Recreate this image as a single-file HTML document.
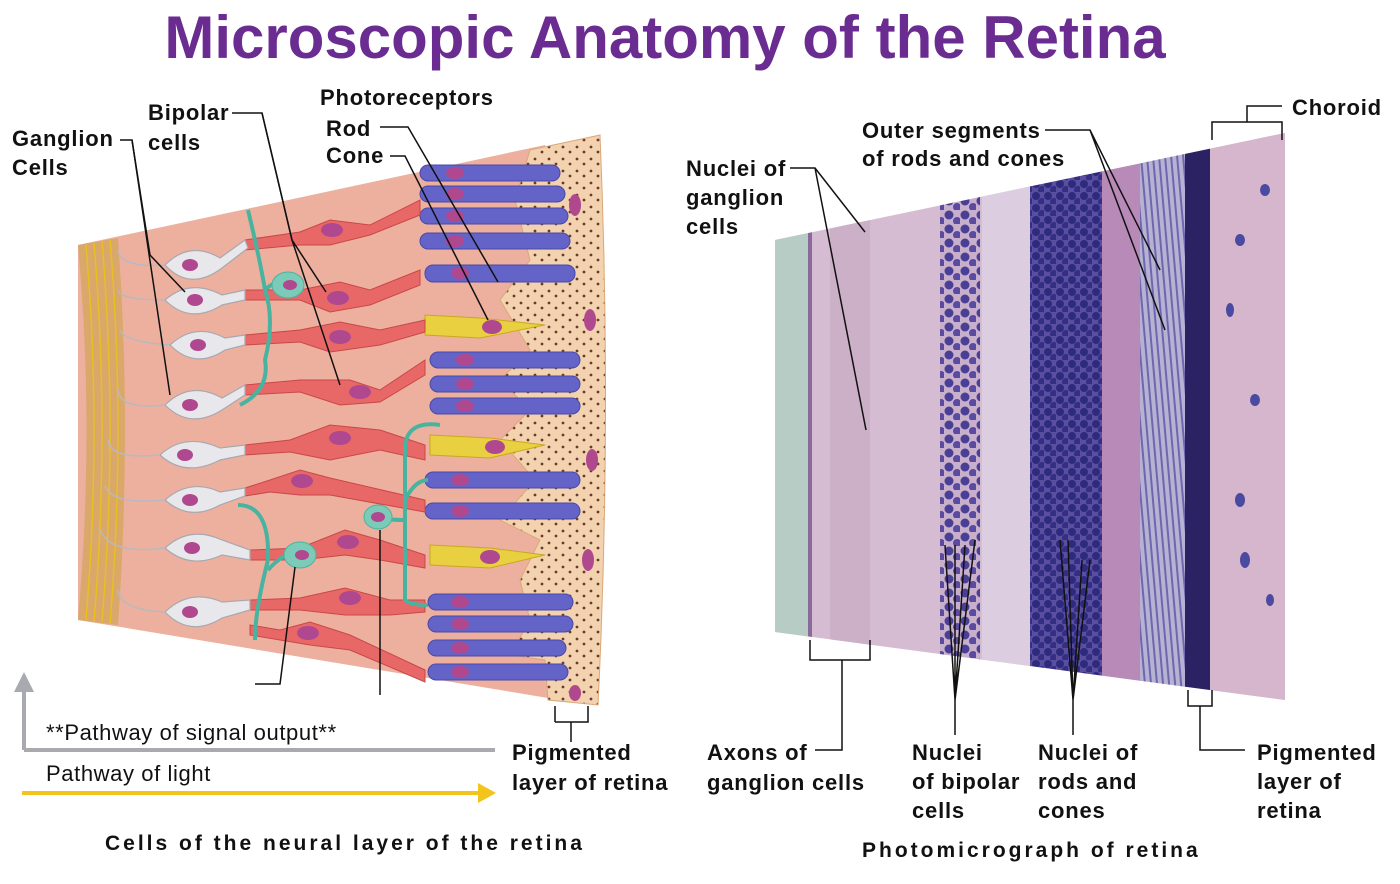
<!DOCTYPE html>
<html><head><meta charset="utf-8"><style>
html,body{margin:0;padding:0;background:#fff;}
body{width:1400px;height:884px;overflow:hidden;position:relative;font-family:"Liberation Sans",Arial,sans-serif;}
svg{position:absolute;left:0;top:0;}
.t{font-family:"Liberation Sans",Arial,sans-serif;font-weight:bold;font-size:22px;letter-spacing:0.8px;fill:#111;}
.c{font-family:"Liberation Sans",Arial,sans-serif;font-weight:bold;font-size:21px;letter-spacing:3px;fill:#111;}
</style></head><body>
<svg width="1400" height="884" viewBox="0 0 1400 884">
<defs>
<pattern id="nuc" width="16" height="14" patternUnits="userSpaceOnUse">
<rect width="16" height="14" fill="#c8b0cc"/>
<circle cx="5" cy="5" r="4.5" fill="#4a3f95"/><circle cx="13" cy="11" r="4" fill="#5a4aa0"/>
</pattern>
<pattern id="dense" width="12" height="12" patternUnits="userSpaceOnUse">
<rect width="12" height="12" fill="#5a4f9e"/>
<circle cx="4" cy="4" r="4" fill="#2e2a7e"/><circle cx="10" cy="10" r="4" fill="#342f85"/>
</pattern>
<pattern id="stri" width="6" height="20" patternUnits="userSpaceOnUse" patternTransform="rotate(-5)">
<rect width="6" height="20" fill="#b6b2d4"/><rect width="2" height="20" fill="#6f66ad"/>
</pattern>
<pattern id="pig" width="14" height="12" patternUnits="userSpaceOnUse">
<rect width="14" height="12" fill="#f3d2b0"/><circle cx="3" cy="3" r="1.4" fill="#6b3a2a"/><circle cx="10" cy="8" r="1.4" fill="#6b3a2a"/>
</pattern>
<clipPath id="mc"><polygon points="775,240 1285,133 1285,700 775,632"/></clipPath>
</defs>

<text x="665" y="58" text-anchor="middle" font-family="Liberation Sans" font-weight="bold" font-size="60" fill="#6a2c91">Microscopic Anatomy of the Retina</text>

<!-- LEFT DIAGRAM -->
<polygon points="78,245 545,145 560,700 78,620" fill="#eeb09e"/>
<path d="M78,245 Q95,430 78,620 L118,625 Q132,430 118,238 Z" fill="#d9a86a"/>
<g stroke="#e8c020" stroke-width="1.5" fill="none">
<path d="M86,245 Q102,430 86,620"/><path d="M94,243 Q110,430 94,622"/><path d="M102,241 Q118,430 102,622"/><path d="M110,240 Q126,430 110,624"/>
</g>
<path d="M530,150 L600,135 Q612,420 598,705 L548,700 L545,660 L510,655 L530,620 L520,580 L540,540 L500,520 L535,480 L500,440 L530,410 L500,380 L530,350 L500,300 L530,260 L515,200 Z" fill="url(#pig)" stroke="#d9a878"/>
<g fill="#b0488e"><ellipse cx="575" cy="205" rx="6" ry="11"/><ellipse cx="590" cy="320" rx="6" ry="11"/><ellipse cx="592" cy="460" rx="6" ry="11"/><ellipse cx="588" cy="560" rx="6" ry="11"/><ellipse cx="575" cy="693" rx="6" ry="8"/></g>

<g fill="#6464c8" stroke="#4848a8" stroke-width="1">
<rect x="420" y="165" width="140" height="16" rx="8"/><rect x="420" y="186" width="145" height="16" rx="8"/><rect x="420" y="208" width="148" height="16" rx="8"/><rect x="420" y="233" width="150" height="16" rx="8"/><rect x="425" y="265" width="150" height="17" rx="8"/>
<rect x="430" y="352" width="150" height="16" rx="8"/><rect x="430" y="376" width="150" height="16" rx="8"/><rect x="430" y="398" width="150" height="16" rx="8"/>
<rect x="425" y="472" width="155" height="16" rx="8"/><rect x="425" y="503" width="155" height="16" rx="8"/>
<rect x="428" y="594" width="145" height="16" rx="8"/><rect x="428" y="616" width="145" height="16" rx="8"/><rect x="428" y="640" width="138" height="16" rx="8"/><rect x="428" y="664" width="140" height="16" rx="8"/>
</g>
<g fill="#e8d040" stroke="#c8a820"><path d="M425,315 L480,318 L545,325 L480,338 L425,335 Z"/><path d="M430,435 L490,438 L545,445 L490,458 L430,455 Z"/><path d="M430,545 L490,548 L545,555 L490,568 L430,565 Z"/></g>
<g fill="#b04890">
<ellipse cx="455" cy="173" rx="9" ry="6"/><ellipse cx="455" cy="194" rx="9" ry="6"/><ellipse cx="455" cy="216" rx="9" ry="6"/><ellipse cx="455" cy="241" rx="9" ry="6"/><ellipse cx="460" cy="273" rx="9" ry="6"/><ellipse cx="492" cy="327" rx="10" ry="7"/>
<ellipse cx="465" cy="360" rx="9" ry="6"/><ellipse cx="465" cy="384" rx="9" ry="6"/><ellipse cx="465" cy="406" rx="9" ry="6"/><ellipse cx="495" cy="447" rx="10" ry="7"/><ellipse cx="460" cy="480" rx="9" ry="6"/><ellipse cx="460" cy="511" rx="9" ry="6"/><ellipse cx="490" cy="557" rx="10" ry="7"/><ellipse cx="460" cy="602" rx="9" ry="6"/><ellipse cx="460" cy="624" rx="9" ry="6"/><ellipse cx="460" cy="648" rx="9" ry="6"/><ellipse cx="460" cy="672" rx="9" ry="6"/>
</g>
<g fill="#e86868" stroke="#c84848" stroke-width="1">
<path d="M245,240 L300,232 L330,220 L370,225 L420,200 L420,215 L370,235 L330,245 L300,245 L245,250Z"/>
<path d="M245,290 L300,290 L340,282 L370,290 L420,270 L420,285 L370,305 L330,312 L300,300 L245,300Z"/>
<path d="M245,335 L300,330 L340,322 L380,330 L425,320 L425,332 L380,345 L330,352 L300,342 L245,345Z"/>
<path d="M245,385 L300,380 L350,380 L380,390 L425,360 L425,375 L380,402 L340,405 L300,392 L245,395Z"/>
<path d="M245,445 L290,440 L330,425 L380,430 L425,445 L425,460 L380,450 L330,460 L290,452 L245,455Z"/>
<path d="M245,488 L270,480 L300,470 L330,478 L425,500 L425,512 L330,495 L300,495 L270,492 L245,496Z"/>
<path d="M250,550 L300,548 L345,530 L380,540 L425,555 L425,568 L380,560 L345,555 L300,560 L250,560Z"/>
<path d="M250,600 L300,598 L345,588 L390,600 L425,600 L425,612 L390,615 L345,615 L300,610 L250,610Z"/>
<path d="M250,625 L280,630 L310,622 L350,635 L425,670 L425,682 L350,650 L310,645 L280,640 L250,635Z"/>
</g>
<g fill="#b04890"><ellipse cx="332" cy="230" rx="11" ry="7"/><ellipse cx="338" cy="298" rx="11" ry="7"/><ellipse cx="340" cy="337" rx="11" ry="7"/><ellipse cx="360" cy="392" rx="11" ry="7"/><ellipse cx="340" cy="438" rx="11" ry="7"/><ellipse cx="302" cy="481" rx="11" ry="7"/><ellipse cx="348" cy="542" rx="11" ry="7"/><ellipse cx="350" cy="598" rx="11" ry="7"/><ellipse cx="308" cy="633" rx="11" ry="7"/></g>
<g fill="none" stroke="#48b4a0" stroke-width="4">
<path d="M248,210 Q260,260 265,290 Q275,320 265,360 Q270,390 240,405"/>
<path d="M265,290 Q280,275 300,285"/>
<path d="M238,505 Q270,505 268,560 Q255,610 255,640"/>
<path d="M268,570 Q290,545 310,555"/>
<path d="M440,425 Q405,420 405,450 L405,600 Q410,605 428,605"/>
<path d="M405,520 Q380,520 380,515"/><path d="M405,500 Q415,480 428,480"/>
</g>
<g fill="#7ccab8" stroke="#48b4a0"><ellipse cx="288" cy="285" rx="16" ry="13"/><ellipse cx="300" cy="555" rx="16" ry="13"/><ellipse cx="378" cy="517" rx="14" ry="12"/></g>
<g fill="#b04890"><ellipse cx="290" cy="285" rx="7" ry="5"/><ellipse cx="302" cy="555" rx="7" ry="5"/><ellipse cx="378" cy="517" rx="7" ry="5"/></g>
<g fill="#e8e8ec" stroke="#a8a8b0" stroke-width="1.2">
<path d="M165,265 Q190,240 220,258 L245,240 L248,248 L222,268 Q190,292 165,265Z"/>
<path d="M165,300 Q190,278 222,295 L245,290 L245,300 L222,305 Q190,325 165,300Z"/>
<path d="M170,345 Q195,322 225,338 L245,335 L245,345 L225,350 Q195,370 170,345Z"/>
<path d="M165,405 Q190,380 222,398 L245,385 L245,395 L222,410 Q190,430 165,405Z"/>
<path d="M160,455 Q185,432 220,448 L245,445 L245,455 L220,460 Q185,478 160,455Z"/>
<path d="M165,500 Q190,478 220,492 L245,488 L245,496 L220,505 Q190,522 165,500Z"/>
<path d="M165,548 Q190,525 222,540 L250,550 L250,560 L222,555 Q190,570 165,548Z"/>
<path d="M165,612 Q190,588 222,602 L250,600 L250,610 L222,618 Q190,638 165,612Z"/>
</g>
<g fill="#b04890"><ellipse cx="190" cy="265" rx="8" ry="6"/><ellipse cx="195" cy="300" rx="8" ry="6"/><ellipse cx="198" cy="345" rx="8" ry="6"/><ellipse cx="190" cy="405" rx="8" ry="6"/><ellipse cx="185" cy="455" rx="8" ry="6"/><ellipse cx="190" cy="500" rx="8" ry="6"/><ellipse cx="192" cy="548" rx="8" ry="6"/><ellipse cx="190" cy="612" rx="8" ry="6"/></g>
<g fill="none" stroke="#b8b8c0" stroke-width="1.5">
<path d="M165,265 Q120,268 118,250"/><path d="M165,300 Q120,300 118,290"/><path d="M170,345 Q125,342 120,330"/><path d="M165,405 Q120,410 118,390"/><path d="M160,455 Q110,460 108,440"/><path d="M165,500 Q110,505 105,485"/><path d="M165,548 Q110,555 100,530"/><path d="M165,612 Q120,610 118,590"/>
</g>

<g fill="none" stroke="#111" stroke-width="1.5">
<path d="M120,140 L132,140 L170,395"/><path d="M132,140 L150,255 L185,292"/>
<path d="M232,113 L262,113 L292,240 L326,292"/><path d="M262,113 L292,240 L340,385"/>
<path d="M380,127 L408,127 L498,282"/><path d="M390,156 L405,156 L488,320"/>
<path d="M255,684 L280,684 L295,567"/><path d="M380,695 L380,530"/>
<path d="M555,722 L555,706 M555,722 L588,722 L588,706 M571,722 L571,742"/>
</g>
<text class="t" x="12" y="146">Ganglion</text><text class="t" x="12" y="175">Cells</text>
<text class="t" x="148" y="120">Bipolar</text><text class="t" x="148" y="150">cells</text>
<text class="t" x="320" y="105">Photoreceptors</text>
<text class="t" x="326" y="136">Rod</text><text class="t" x="326" y="163">Cone</text>
<text class="t" x="512" y="760">Pigmented</text><text class="t" x="512" y="790">layer of retina</text>

<g fill="none" stroke="#a8aab0" stroke-width="4"><path d="M24,750 L24,690 M24,750 L495,750"/></g>
<polygon points="14,692 24,672 34,692" fill="#a8aab0"/>
<text x="46" y="740" font-family="Liberation Sans" font-size="22" letter-spacing="0.6" fill="#111">**Pathway of signal output**</text>
<line x1="22" y1="793" x2="482" y2="793" stroke="#f2c41c" stroke-width="4"/>
<polygon points="478,783 496,793 478,803" fill="#f2c41c"/>
<text x="46" y="781" font-family="Liberation Sans" font-size="22" letter-spacing="0.6" fill="#111">Pathway of light</text>
<text class="c" x="105" y="850">Cells of the neural layer of the retina</text>

<g clip-path="url(#mc)">
<rect x="775" y="100" width="520" height="620" fill="#d6bcd2"/>
<rect x="775" y="100" width="33" height="620" fill="#b8ccc6"/>
<rect x="808" y="100" width="4" height="620" fill="#8a6a9a"/>
<rect x="830" y="100" width="40" height="620" fill="#ccb0c8"/>
<rect x="940" y="100" width="40" height="620" fill="url(#nuc)"/>
<rect x="982" y="100" width="48" height="620" fill="#dccde0"/>
<rect x="1030" y="100" width="72" height="620" fill="url(#dense)"/>
<rect x="1102" y="100" width="40" height="620" fill="#b88ab8"/>
<rect x="1140" y="100" width="45" height="620" fill="url(#stri)"/>
<rect x="1185" y="100" width="25" height="620" fill="#2a2262"/>
<rect x="1210" y="100" width="80" height="620" fill="#d6b6cc"/>
<g fill="#4a4aa0"><ellipse cx="1240" cy="240" rx="5" ry="6"/><ellipse cx="1265" cy="190" rx="5" ry="6"/><ellipse cx="1230" cy="310" rx="4" ry="7"/><ellipse cx="1255" cy="400" rx="5" ry="6"/><ellipse cx="1240" cy="500" rx="5" ry="7"/><ellipse cx="1270" cy="600" rx="4" ry="6"/><ellipse cx="1245" cy="560" rx="5" ry="8"/></g>
</g>
<g fill="none" stroke="#111" stroke-width="1.5">
<path d="M790,168 L815,168 L865,232 M815,168 L866,430"/>
<path d="M1045,130 L1090,130 L1160,270 M1090,130 L1165,330"/>
<path d="M1212,140 L1212,122 L1282,122 L1282,140 M1247,122 L1247,106 L1282,106"/>
<path d="M810,640 L810,660 L870,660 L870,640 M842,660 L842,750 L815,750"/>
<path d="M955,700 L945,545 M955,700 L955,545 M955,700 L965,545 M955,700 L975,540 M955,700 L955,735"/>
<path d="M1073,700 L1060,540 M1073,700 L1068,540 M1073,700 L1082,560 M1073,700 L1090,560 M1073,700 L1073,735"/>
<path d="M1188,690 L1188,706 L1212,706 L1212,690 M1200,706 L1200,750 L1245,750"/>
</g>
<text class="t" x="686" y="176">Nuclei of</text><text class="t" x="686" y="205">ganglion</text><text class="t" x="686" y="234">cells</text>
<text class="t" x="862" y="138">Outer segments</text><text class="t" x="862" y="166">of rods and cones</text>
<text class="t" x="1292" y="115">Choroid</text>
<text class="t" x="707" y="760">Axons of</text><text class="t" x="707" y="790">ganglion cells</text>
<text class="t" x="912" y="760">Nuclei</text><text class="t" x="912" y="789">of bipolar</text><text class="t" x="912" y="818">cells</text>
<text class="t" x="1038" y="760">Nuclei of</text><text class="t" x="1038" y="789">rods and</text><text class="t" x="1038" y="818">cones</text>
<text class="t" x="1257" y="760">Pigmented</text><text class="t" x="1257" y="789">layer of</text><text class="t" x="1257" y="818">retina</text>
<text class="c" x="862" y="857">Photomicrograph of retina</text>
</svg>
</body></html>
